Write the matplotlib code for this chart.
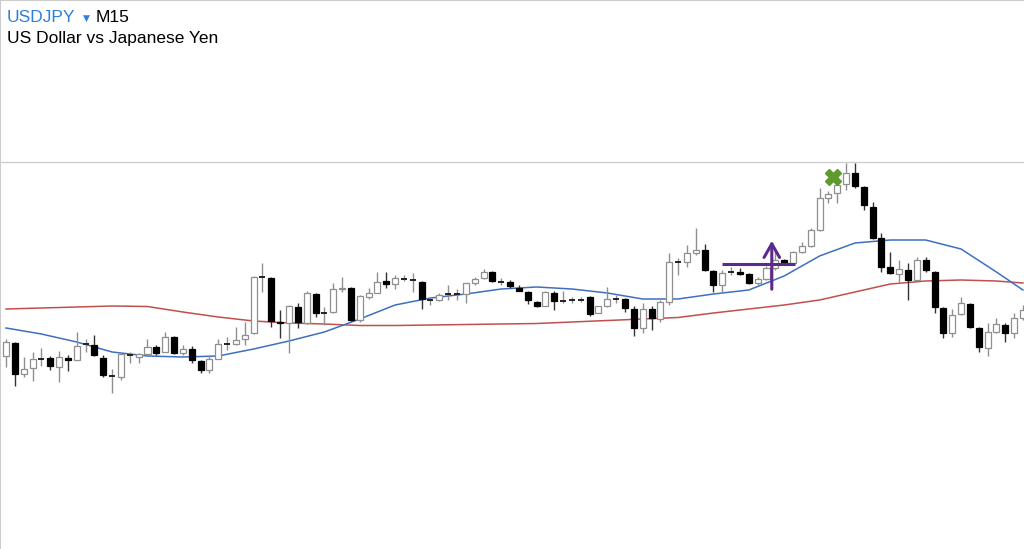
import numpy as np
import matplotlib
matplotlib.use("Agg")
import matplotlib.pyplot as plt

plt.rcParams['font.family'] = ['Liberation Sans', 'DejaVu Sans']

# USDJPY M15 candles (price levels, arbitrary units)
opens = [193, 206, 175, 181, 190, 191, 182, 191, 189, 205,
         204, 191, 173, 172, 194, 192, 195, 202, 197, 212,
         196, 200, 188, 179, 190, 205, 205, 210, 216, 272,
         271, 227, 226, 242, 226, 255, 236, 237, 260, 261,
         229, 252, 256, 268, 265, 270, 269, 267, 249, 249,
         255, 255, 255, 266, 271, 277, 267, 267, 261, 257,
         247, 243, 256, 248, 249, 249, 252, 236, 243, 250,
         250, 240, 221, 240, 230, 247, 287, 287, 296, 299,
         278, 264, 277, 277, 275, 266, 270, 281, 289, 286,
         297, 303, 319, 351, 356, 365, 376, 362, 342, 311,
         282, 275, 279, 269, 289, 277, 241, 216, 235, 245,
         221, 201, 217, 224, 216, 231]
highs = [210, 207, 192, 197, 201, 193, 198, 194, 217, 210,
         214, 194, 180, 195, 197, 196, 210, 204, 217, 213,
         204, 203, 189, 194, 210, 212, 222, 227, 273, 286,
         272, 239, 244, 246, 258, 256, 242, 266, 272, 262,
         254, 261, 277, 277, 274, 274, 276, 268, 252, 256,
         264, 260, 266, 272, 280, 278, 271, 269, 264, 258,
         248, 258, 258, 258, 252, 252, 253, 243, 262, 254,
         251, 243, 246, 243, 249, 296, 291, 304, 321, 305,
         279, 279, 282, 281, 276, 272, 283, 299, 290, 298,
         307, 321, 361, 358, 370, 386, 386, 363, 347, 316,
         297, 289, 286, 292, 292, 278, 242, 240, 252, 246,
         222, 226, 231, 226, 236, 244]
lows = [182, 163, 172, 168, 183, 179, 167, 178, 189, 197,
        193, 172, 156, 169, 186, 186, 195, 194, 197, 195,
        194, 186, 176, 176, 190, 199, 204, 204, 215, 257,
        222, 211, 196, 221, 225, 232, 224, 236, 257, 228,
        227, 250, 256, 261, 260, 268, 257, 240, 244, 248,
        249, 249, 246, 264, 270, 267, 264, 261, 258, 245,
        242, 243, 239, 246, 246, 247, 233, 236, 242, 246,
        237, 213, 216, 219, 227, 244, 274, 282, 294, 278,
        257, 257, 274, 274, 265, 264, 269, 279, 285, 285,
        296, 302, 318, 346, 346, 359, 361, 339, 310, 277,
        275, 266, 249, 267, 277, 236, 211, 212, 234, 221,
        197, 193, 216, 207, 211, 229]
closes = [207, 175, 180, 190, 190, 183, 192, 189, 203, 205,
          194, 174, 173, 195, 194, 195, 202, 196, 212, 196,
          200, 189, 179, 190, 205, 205, 209, 214, 272, 272,
          228, 226, 243, 227, 256, 236, 236, 260, 261, 229,
          253, 256, 267, 265, 271, 270, 269, 250, 249, 254,
          255, 255, 266, 270, 277, 268, 267, 263, 258, 249,
          243, 257, 248, 248, 249, 249, 235, 243, 250, 250,
          241, 221, 240, 231, 247, 287, 287, 296, 299, 279,
          264, 276, 277, 275, 266, 270, 281, 289, 286, 297,
          303, 319, 351, 355, 364, 376, 363, 344, 311, 282,
          276, 280, 269, 289, 279, 242, 216, 234, 246, 222,
          202, 217, 225, 216, 231, 239]

# moving averages, read every 4th candle
ma_idx = [0, 4, 8, 12, 16, 20, 24, 28, 32, 36, 40, 44, 48, 52, 56,
          60, 64, 68, 72, 76, 80, 84, 88, 92, 96, 100, 104, 108, 112, 115]
ma_fast = [221, 215, 207, 197, 193, 192, 193, 200, 208, 217, 230, 244, 251, 255, 260,
           262, 260, 256, 250, 250, 255, 259, 273, 293, 306, 309, 309, 300, 277, 259]
ma_slow = [240, 241, 242, 243, 242.5, 237, 232, 228, 226, 225, 223.5, 223.5, 224, 224.5, 225,
           225.5, 227, 228.5, 230, 231.5, 236, 240, 244, 249, 257, 265, 268, 269, 268, 266]

day_high = 387
hline_level = 285
hline_from, hline_to = 81.0, 89.2
arrow_x, arrow_from, arrow_to = 86.6, 257, 311
cross_x, cross_y = 93.5, 372

fig = plt.figure(figsize=(10.24, 5.49), dpi=100)
ax = fig.add_axes([0, 0, 1, 1])
ax.set_xlim(-0.68, 115.12)
ax.set_ylim(0, 549)

x = np.arange(len(opens))
o = np.array(opens, float)
h = np.array(highs, float)
l = np.array(lows, float)
c = np.array(closes, float)
up = c > o
down = c < o
doji = c == o

ax.axhline(day_high, color='#cfcfcf', lw=1, zorder=1)

ax.plot(ma_idx, ma_slow, color='#c0504d', lw=1.1, zorder=2)
ax.plot(ma_idx, ma_fast, color='#3f6fc0', lw=1.1, zorder=2)

ax.vlines(x[~down], l[~down], h[~down], color='#8f8f8f', lw=1, zorder=3)
ax.vlines(x[down], l[down], h[down], color='#333333', lw=1, zorder=3)
w = 0.68
ax.bar(x[up], (c - o)[up], bottom=o[up], width=w, color='white',
       edgecolor='#8f8f8f', lw=0.9, zorder=4)
ax.bar(x[down], (o - c)[down], bottom=c[down], width=w, color='black',
       edgecolor='black', lw=0.9, zorder=4)
ax.hlines(o[doji], x[doji] - w / 2, x[doji] + w / 2, color='#222222', lw=1.4, zorder=4)

ax.hlines(hline_level, hline_from, hline_to, color='#5b2a8c', lw=2.2, zorder=5)
ax.annotate('', xy=(arrow_x, arrow_to), xytext=(arrow_x, arrow_from),
            arrowprops=dict(arrowstyle='->,head_length=0.7,head_width=0.4',
                            color='#5b2a8c', lw=2.2, mutation_scale=14),
            zorder=5)
ax.plot([cross_x], [cross_y], marker='X', markersize=12, color='#5e9a30',
        markeredgecolor='#5e9a30', zorder=6)

ax.set_xticks([])
ax.set_yticks([])
for s in ['right', 'bottom']:
    ax.spines[s].set_visible(False)
for s in ['left', 'top']:
    ax.spines[s].set_color('#cccccc')
    ax.spines[s].set_linewidth(1.5)

fig.text(7 / 1024, 1 - 17 / 549, 'USDJPY', color='#2f7fd8', fontsize=12.5, va='center')
fig.text(83 / 1024, 1 - 18 / 549, '▼', color='#2f7fd8', fontsize=6.5, va='center',
         family=['DejaVu Sans'])
fig.text(96 / 1024, 1 - 17 / 549, 'M15', color='black', fontsize=12.5, va='center')
fig.text(7 / 1024, 1 - 39 / 549, 'US Dollar vs Japanese Yen', color='black',
         fontsize=12.5, va='center')

fig.savefig('out.png', dpi=100)
